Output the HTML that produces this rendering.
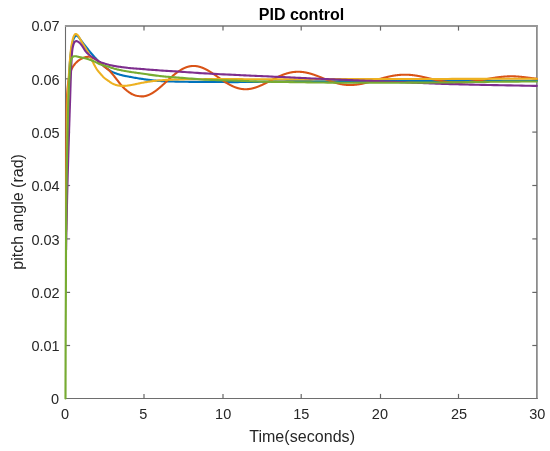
<!DOCTYPE html>
<html><head><meta charset="utf-8"><style>
html,body{margin:0;padding:0;background:#fff;width:550px;height:451px;overflow:hidden}
svg{display:block}
text{font-family:"Liberation Sans",Arial,sans-serif;fill:#262626}
</style></head><body>
<svg width="550" height="451" viewBox="0 0 550 451">
<defs><filter id="sb" x="-5%" y="-5%" width="110%" height="110%"><feGaussianBlur stdDeviation="0.3"/></filter></defs>
<rect width="550" height="451" fill="#fff"/>
<g filter="url(#sb)">

<g stroke="#666666" stroke-width="1.2" fill="none">
<line x1="65.5" y1="25.0" x2="65.5" y2="399.05" stroke="#6a6a6a" stroke-width="1.1"/>
<line x1="536.9" y1="25.0" x2="536.9" y2="399.05" stroke="#808080" stroke-width="1.6"/>
<line x1="64.95" y1="26.0" x2="537.6999999999999" y2="26.0" stroke="#989898" stroke-width="2.0"/>
<line x1="64.95" y1="398.5" x2="537.6999999999999" y2="398.5" stroke="#6e6e6e" stroke-width="1.1"/>
<line x1="144.00" y1="398.5" x2="144.00" y2="393.9"/><line x1="144.00" y1="26.0" x2="144.00" y2="30.6"/><line x1="223.00" y1="398.5" x2="223.00" y2="393.9"/><line x1="223.00" y1="26.0" x2="223.00" y2="30.6"/><line x1="301.20" y1="398.5" x2="301.20" y2="393.9"/><line x1="301.20" y1="26.0" x2="301.20" y2="30.6"/><line x1="380.50" y1="398.5" x2="380.50" y2="393.9"/><line x1="380.50" y1="26.0" x2="380.50" y2="30.6"/><line x1="458.50" y1="398.5" x2="458.50" y2="393.9"/><line x1="458.50" y1="26.0" x2="458.50" y2="30.6"/><line x1="65.5" y1="345.50" x2="70.1" y2="345.50"/><line x1="536.9" y1="345.50" x2="532.3" y2="345.50"/><line x1="65.5" y1="292.40" x2="70.1" y2="292.40"/><line x1="536.9" y1="292.40" x2="532.3" y2="292.40"/><line x1="65.5" y1="238.90" x2="70.1" y2="238.90"/><line x1="536.9" y1="238.90" x2="532.3" y2="238.90"/><line x1="65.5" y1="185.50" x2="70.1" y2="185.50"/><line x1="536.9" y1="185.50" x2="532.3" y2="185.50"/><line x1="65.5" y1="132.10" x2="70.1" y2="132.10"/><line x1="536.9" y1="132.10" x2="532.3" y2="132.10"/><line x1="65.5" y1="78.80" x2="70.1" y2="78.80"/><line x1="536.9" y1="78.80" x2="532.3" y2="78.80"/>
</g>
<g fill="none" stroke-width="2.1" stroke-linejoin="round" stroke-linecap="round">
<path d="M66.10 230.00 L66.15 226.02 L66.20 222.07 L66.25 218.14 L66.30 214.21 L66.35 210.28 L66.40 206.32 L66.45 202.33 L66.50 198.29 L66.55 194.18 L66.60 190.00 L66.66 185.20 L66.72 180.27 L66.77 175.23 L66.83 170.13 L66.89 165.00 L66.95 159.87 L67.01 154.77 L67.07 149.73 L67.14 144.80 L67.20 140.00 L67.25 135.77 L67.30 131.52 L67.34 127.30 L67.39 123.11 L67.43 118.98 L67.48 114.93 L67.54 110.99 L67.61 107.17 L67.70 103.50 L67.80 100.00 L67.89 97.52 L67.98 95.13 L68.09 92.81 L68.20 90.56 L68.31 88.37 L68.43 86.23 L68.55 84.14 L68.67 82.07 L68.78 80.03 L68.90 78.00 L69.00 76.29 L69.09 74.60 L69.18 72.94 L69.27 71.30 L69.36 69.70 L69.46 68.11 L69.56 66.55 L69.66 65.01 L69.78 63.49 L69.90 62.00 L70.01 60.72 L70.13 59.44 L70.24 58.18 L70.37 56.94 L70.49 55.71 L70.62 54.51 L70.76 53.33 L70.90 52.19 L71.05 51.08 L71.20 50.00 L71.32 49.17 L71.45 48.36 L71.57 47.57 L71.70 46.79 L71.84 46.04 L71.97 45.30 L72.12 44.57 L72.27 43.87 L72.43 43.18 L72.60 42.50 L72.75 41.94 L72.89 41.38 L73.04 40.83 L73.19 40.29 L73.35 39.76 L73.52 39.25 L73.69 38.76 L73.88 38.31 L74.08 37.88 L74.30 37.50 L74.47 37.24 L74.64 36.98 L74.82 36.73 L75.01 36.49 L75.20 36.26 L75.39 36.06 L75.59 35.89 L75.79 35.75 L76.00 35.65 L76.20 35.60 L76.39 35.59 L76.59 35.63 L76.79 35.70 L76.99 35.79 L77.20 35.91 L77.40 36.05 L77.61 36.21 L77.81 36.37 L78.01 36.54 L78.20 36.70 L78.44 36.92 L78.68 37.17 L78.91 37.44 L79.14 37.73 L79.36 38.03 L79.59 38.34 L79.82 38.66 L80.04 38.98 L80.27 39.29 L80.50 39.60 L80.75 39.93 L80.99 40.26 L81.24 40.60 L81.49 40.94 L81.74 41.28 L81.99 41.63 L82.24 41.97 L82.49 42.32 L82.74 42.66 L83.00 43.00 L83.26 43.34 L83.53 43.69 L83.80 44.03 L84.08 44.38 L84.35 44.72 L84.63 45.06 L84.90 45.40 L85.17 45.74 L85.44 46.07 L85.70 46.40 L85.94 46.70 L86.17 47.00 L86.41 47.29 L86.64 47.58 L86.87 47.87 L87.09 48.15 L87.32 48.44 L87.55 48.73 L87.77 49.01 L88.00 49.30 L88.22 49.58 L88.43 49.85 L88.64 50.12 L88.84 50.39 L89.05 50.66 L89.26 50.93 L89.48 51.21 L89.71 51.49 L89.95 51.79 L90.20 52.10 L90.57 52.54 L90.97 53.01 L91.38 53.49 L91.82 53.99 L92.27 54.50 L92.72 55.02 L93.19 55.54 L93.66 56.06 L94.13 56.58 L94.60 57.10 L95.11 57.66 L95.64 58.24 L96.18 58.83 L96.72 59.43 L97.27 60.02 L97.82 60.61 L98.38 61.18 L98.92 61.75 L99.47 62.29 L100.00 62.80 L100.46 63.22 L100.91 63.63 L101.36 64.03 L101.81 64.41 L102.26 64.79 L102.70 65.16 L103.15 65.52 L103.60 65.88 L104.05 66.24 L104.50 66.60 L104.94 66.95 L105.38 67.30 L105.82 67.64 L106.25 67.99 L106.69 68.33 L107.13 68.66 L107.58 68.98 L108.02 69.30 L108.46 69.61 L108.90 69.90 L109.31 70.16 L109.71 70.41 L110.11 70.66 L110.52 70.90 L110.92 71.13 L111.33 71.35 L111.74 71.57 L112.15 71.79 L112.57 72.00 L113.00 72.20 L113.45 72.41 L113.90 72.60 L114.36 72.79 L114.83 72.98 L115.30 73.16 L115.77 73.33 L116.25 73.50 L116.73 73.67 L117.21 73.84 L117.70 74.00 L118.21 74.17 L118.73 74.33 L119.25 74.49 L119.77 74.65 L120.30 74.80 L120.83 74.94 L121.37 75.09 L121.91 75.23 L122.45 75.37 L123.00 75.50 L123.58 75.64 L124.16 75.76 L124.74 75.88 L125.32 76.00 L125.91 76.11 L126.51 76.23 L127.12 76.34 L127.76 76.45 L128.42 76.57 L129.10 76.70 L130.06 76.88 L131.08 77.07 L132.15 77.26 L133.25 77.46 L134.38 77.66 L135.52 77.86 L136.66 78.05 L137.80 78.24 L138.91 78.43 L140.00 78.60 L141.02 78.76 L142.03 78.91 L143.03 79.06 L144.03 79.21 L145.02 79.35 L146.02 79.49 L147.01 79.62 L148.00 79.75 L149.00 79.88 L150.00 80.00 L150.98 80.12 L151.94 80.23 L152.89 80.34 L153.83 80.45 L154.78 80.55 L155.75 80.65 L156.74 80.74 L157.78 80.83 L158.86 80.92 L160.00 81.00 L161.71 81.11 L163.52 81.20 L165.42 81.29 L167.40 81.36 L169.43 81.43 L171.51 81.50 L173.62 81.55 L175.75 81.60 L177.88 81.65 L180.00 81.70 L182.38 81.74 L184.78 81.78 L187.22 81.81 L189.69 81.83 L192.18 81.84 L194.70 81.85 L197.24 81.86 L199.81 81.87 L202.40 81.88 L205.00 81.90 L207.90 81.92 L210.87 81.95 L213.89 81.98 L216.93 82.01 L220.00 82.04 L223.07 82.06 L226.11 82.08 L229.13 82.10 L232.10 82.10 L235.00 82.10 L237.58 82.09 L240.11 82.07 L242.60 82.05 L245.05 82.03 L247.50 82.00 L249.95 81.97 L252.40 81.93 L254.89 81.89 L257.42 81.85 L260.00 81.80 L262.89 81.74 L265.83 81.67 L268.80 81.59 L271.80 81.51 L274.83 81.42 L277.87 81.34 L280.91 81.26 L283.96 81.20 L286.99 81.14 L290.00 81.10 L292.98 81.08 L295.93 81.07 L298.86 81.08 L301.79 81.09 L304.73 81.11 L307.69 81.13 L310.68 81.16 L313.72 81.18 L316.83 81.19 L320.00 81.20 L323.77 81.20 L327.63 81.19 L331.58 81.19 L335.59 81.18 L339.64 81.16 L343.72 81.15 L347.82 81.14 L351.91 81.12 L355.97 81.11 L360.00 81.10 L364.00 81.09 L368.00 81.08 L372.00 81.07 L376.00 81.06 L380.00 81.05 L384.00 81.04 L388.00 81.03 L392.00 81.02 L396.00 81.01 L400.00 81.00 L404.00 80.99 L408.00 80.98 L412.00 80.97 L416.00 80.96 L420.00 80.95 L424.00 80.94 L428.00 80.93 L432.00 80.92 L436.00 80.91 L440.00 80.90 L443.97 80.89 L447.89 80.88 L451.78 80.87 L455.66 80.86 L459.56 80.85 L463.50 80.84 L467.49 80.83 L471.55 80.82 L475.72 80.81 L480.00 80.80 L485.28 80.79 L490.72 80.78 L496.31 80.77 L502.00 80.76 L507.78 80.75 L513.60 80.74 L519.45 80.73 L525.28 80.72 L531.08 80.71 L536.80 80.70" stroke="#0072BD" />
<path d="M66.05 232.00 L66.06 226.77 L66.08 221.49 L66.09 216.19 L66.11 210.87 L66.12 205.57 L66.13 200.31 L66.15 195.10 L66.16 189.96 L66.18 184.92 L66.20 180.00 L66.22 175.79 L66.23 171.66 L66.25 167.61 L66.26 163.62 L66.28 159.67 L66.30 155.75 L66.32 151.83 L66.34 147.92 L66.37 143.98 L66.40 140.00 L66.43 135.91 L66.46 131.67 L66.49 127.35 L66.52 123.01 L66.55 118.72 L66.59 114.52 L66.65 110.49 L66.71 106.68 L66.80 103.17 L66.90 100.00 L66.97 98.29 L67.04 96.69 L67.11 95.17 L67.18 93.73 L67.26 92.35 L67.35 91.03 L67.45 89.74 L67.55 88.48 L67.67 87.24 L67.80 86.00 L67.91 85.01 L68.03 84.04 L68.16 83.09 L68.29 82.15 L68.42 81.24 L68.57 80.35 L68.71 79.48 L68.87 78.64 L69.03 77.81 L69.20 77.00 L69.34 76.36 L69.49 75.73 L69.64 75.11 L69.79 74.51 L69.95 73.92 L70.11 73.35 L70.28 72.79 L70.45 72.24 L70.62 71.71 L70.80 71.20 L70.95 70.80 L71.09 70.41 L71.24 70.03 L71.39 69.67 L71.55 69.31 L71.71 68.96 L71.87 68.62 L72.04 68.28 L72.22 67.94 L72.40 67.60 L72.59 67.27 L72.78 66.95 L72.98 66.63 L73.18 66.31 L73.39 66.00 L73.61 65.69 L73.83 65.39 L74.05 65.09 L74.27 64.79 L74.50 64.50 L74.73 64.22 L74.96 63.94 L75.19 63.67 L75.43 63.40 L75.68 63.13 L75.92 62.87 L76.17 62.62 L76.41 62.37 L76.66 62.13 L76.90 61.90 L77.11 61.71 L77.32 61.52 L77.52 61.34 L77.73 61.17 L77.94 61.00 L78.15 60.83 L78.35 60.67 L78.57 60.51 L78.78 60.36 L79.00 60.20 L79.22 60.05 L79.45 59.90 L79.67 59.75 L79.90 59.60 L80.14 59.46 L80.37 59.32 L80.60 59.18 L80.84 59.05 L81.07 58.92 L81.30 58.80 L81.52 58.69 L81.74 58.58 L81.96 58.47 L82.18 58.36 L82.40 58.26 L82.62 58.16 L82.84 58.07 L83.06 57.98 L83.28 57.89 L83.50 57.80 L83.72 57.72 L83.93 57.64 L84.15 57.56 L84.36 57.48 L84.58 57.41 L84.80 57.34 L85.02 57.27 L85.24 57.21 L85.47 57.15 L85.70 57.10 L85.96 57.05 L86.22 57.00 L86.49 56.96 L86.76 56.92 L87.03 56.88 L87.31 56.85 L87.58 56.83 L87.86 56.81 L88.13 56.80 L88.40 56.80 L88.66 56.80 L88.92 56.81 L89.17 56.82 L89.42 56.83 L89.68 56.85 L89.93 56.88 L90.19 56.92 L90.46 56.97 L90.72 57.03 L91.00 57.10 L91.37 57.21 L91.75 57.35 L92.14 57.51 L92.54 57.68 L92.95 57.87 L93.35 58.07 L93.75 58.28 L94.15 58.48 L94.53 58.69 L94.90 58.90 L95.23 59.09 L95.56 59.29 L95.87 59.49 L96.19 59.69 L96.49 59.90 L96.80 60.11 L97.10 60.33 L97.40 60.55 L97.70 60.77 L98.00 61.00 L98.31 61.24 L98.61 61.49 L98.91 61.74 L99.21 62.00 L99.50 62.26 L99.80 62.52 L100.09 62.79 L100.39 63.06 L100.69 63.33 L101.00 63.60 L101.33 63.90 L101.66 64.20 L101.99 64.51 L102.32 64.82 L102.65 65.13 L102.99 65.44 L103.33 65.76 L103.68 66.07 L104.03 66.39 L104.40 66.70 L104.82 67.04 L105.26 67.38 L105.71 67.71 L106.16 68.05 L106.63 68.38 L107.09 68.72 L107.56 69.07 L108.01 69.43 L108.46 69.81 L108.90 70.20 L109.36 70.64 L109.81 71.10 L110.26 71.57 L110.70 72.05 L111.14 72.55 L111.57 73.05 L112.01 73.56 L112.44 74.07 L112.87 74.59 L113.30 75.10 L113.75 75.64 L114.19 76.19 L114.63 76.74 L115.07 77.30 L115.51 77.87 L115.94 78.44 L116.38 79.01 L116.82 79.57 L117.26 80.14 L117.70 80.70 L118.15 81.27 L118.59 81.84 L119.03 82.42 L119.48 83.00 L119.92 83.57 L120.37 84.15 L120.82 84.71 L121.28 85.26 L121.74 85.79 L122.20 86.30 L122.63 86.75 L123.06 87.20 L123.49 87.63 L123.93 88.05 L124.37 88.46 L124.81 88.87 L125.25 89.26 L125.70 89.65 L126.15 90.03 L126.60 90.40 L127.03 90.75 L127.46 91.08 L127.89 91.42 L128.33 91.74 L128.77 92.06 L129.21 92.37 L129.65 92.67 L130.10 92.96 L130.55 93.24 L131.00 93.50 L131.43 93.74 L131.86 93.98 L132.29 94.21 L132.71 94.42 L133.15 94.63 L133.59 94.83 L134.04 95.01 L134.51 95.19 L134.99 95.35 L135.50 95.50 L136.19 95.67 L136.94 95.82 L137.74 95.96 L138.58 96.08 L139.42 96.18 L140.24 96.26 L141.03 96.33 L141.77 96.37 L142.43 96.40 L143.00 96.40 L143.25 96.39 L143.48 96.38 L143.69 96.36 L143.89 96.33 L144.08 96.30 L144.26 96.26 L144.44 96.22 L144.62 96.18 L144.81 96.14 L145.00 96.10 L145.20 96.06 L145.40 96.01 L145.60 95.96 L145.80 95.91 L146.00 95.86 L146.20 95.81 L146.40 95.75 L146.60 95.69 L146.80 95.63 L147.00 95.56 L147.20 95.50 L147.40 95.43 L147.60 95.36 L147.80 95.28 L148.00 95.21 L148.20 95.13 L148.40 95.05 L148.60 94.97 L148.80 94.88 L149.00 94.80 L149.20 94.71 L149.40 94.62 L149.60 94.53 L149.80 94.43 L150.00 94.33 L150.20 94.23 L150.40 94.13 L150.60 94.03 L150.80 93.93 L151.00 93.82 L151.20 93.71 L151.40 93.60 L151.60 93.49 L151.80 93.37 L152.00 93.26 L152.20 93.14 L152.40 93.02 L152.60 92.90 L152.80 92.78 L153.00 92.65 L153.20 92.53 L153.40 92.40 L153.60 92.27 L153.80 92.13 L154.00 92.00 L154.20 91.86 L154.40 91.73 L154.60 91.59 L154.80 91.45 L155.00 91.31 L155.20 91.17 L155.40 91.02 L155.60 90.88 L155.80 90.73 L156.00 90.58 L156.20 90.43 L156.40 90.28 L156.60 90.13 L156.80 89.97 L157.00 89.82 L157.20 89.66 L157.40 89.51 L157.60 89.35 L157.80 89.19 L158.00 89.03 L158.20 88.86 L158.40 88.70 L158.60 88.54 L158.80 88.37 L159.00 88.21 L159.20 88.04 L159.40 87.87 L159.60 87.70 L159.80 87.53 L160.00 87.36 L160.20 87.19 L160.40 87.01 L160.60 86.84 L160.80 86.67 L161.00 86.49 L161.20 86.32 L161.40 86.14 L161.60 85.96 L161.80 85.79 L162.00 85.61 L162.20 85.43 L162.40 85.25 L162.60 85.07 L162.80 84.89 L163.00 84.71 L163.20 84.53 L163.40 84.35 L163.60 84.16 L163.80 83.98 L164.00 83.80 L164.20 83.61 L164.40 83.43 L164.60 83.25 L164.80 83.06 L165.00 82.88 L165.20 82.70 L165.40 82.51 L165.60 82.33 L165.80 82.14 L166.00 81.96 L166.20 81.77 L166.40 81.59 L166.60 81.40 L166.80 81.22 L167.00 81.03 L167.20 80.85 L167.40 80.67 L167.60 80.48 L167.80 80.30 L168.00 80.12 L168.20 79.93 L168.40 79.75 L168.60 79.56 L168.80 79.38 L169.00 79.20 L169.20 79.02 L169.40 78.84 L169.60 78.66 L169.80 78.48 L170.00 78.30 L170.20 78.12 L170.40 77.94 L170.60 77.76 L170.80 77.58 L171.00 77.40 L171.20 77.23 L171.40 77.05 L171.60 76.88 L171.80 76.70 L172.00 76.53 L172.20 76.35 L172.40 76.18 L172.60 76.01 L172.80 75.84 L173.00 75.67 L173.20 75.50 L173.40 75.33 L173.60 75.16 L173.80 75.00 L174.00 74.83 L174.20 74.67 L174.40 74.50 L174.60 74.34 L174.80 74.18 L175.00 74.02 L175.20 73.86 L175.40 73.70 L175.60 73.55 L175.80 73.39 L176.00 73.24 L176.20 73.08 L176.40 72.93 L176.60 72.78 L176.80 72.63 L177.00 72.48 L177.20 72.33 L177.40 72.19 L177.60 72.04 L177.80 71.90 L178.00 71.76 L178.20 71.62 L178.40 71.48 L178.60 71.34 L178.80 71.20 L179.00 71.07 L179.20 70.93 L179.40 70.80 L179.60 70.67 L179.80 70.54 L180.00 70.42 L180.20 70.29 L180.40 70.17 L180.60 70.04 L180.80 69.92 L181.00 69.80 L181.20 69.68 L181.40 69.57 L181.60 69.45 L181.80 69.34 L182.00 69.23 L182.20 69.12 L182.40 69.01 L182.60 68.91 L182.80 68.80 L183.00 68.70 L183.20 68.60 L183.40 68.50 L183.60 68.40 L183.80 68.31 L184.00 68.21 L184.20 68.12 L184.40 68.03 L184.60 67.94 L184.80 67.85 L185.00 67.77 L185.20 67.69 L185.40 67.61 L185.60 67.53 L185.80 67.45 L186.00 67.38 L186.20 67.30 L186.40 67.23 L186.60 67.16 L186.80 67.09 L187.00 67.03 L187.20 66.96 L187.40 66.90 L187.60 66.84 L187.80 66.78 L188.00 66.73 L188.20 66.67 L188.40 66.62 L188.60 66.57 L188.80 66.52 L189.00 66.48 L189.20 66.43 L189.40 66.39 L189.60 66.35 L189.80 66.31 L190.00 66.27 L190.20 66.24 L190.40 66.21 L190.60 66.18 L190.80 66.15 L191.00 66.12 L191.20 66.10 L191.40 66.07 L191.60 66.05 L191.80 66.03 L192.00 66.02 L192.20 66.00 L192.40 65.99 L192.60 65.98 L192.80 65.97 L193.00 65.96 L193.20 65.96 L193.40 65.95 L193.60 65.95 L193.80 65.95 L194.00 65.96 L194.20 65.96 L194.40 65.97 L194.60 65.98 L194.80 65.99 L195.00 66.00 L195.20 66.01 L195.40 66.03 L195.60 66.05 L195.80 66.07 L196.00 66.09 L196.20 66.12 L196.40 66.15 L196.60 66.17 L196.80 66.20 L197.00 66.24 L197.20 66.27 L197.40 66.30 L197.60 66.34 L197.80 66.38 L198.00 66.42 L198.20 66.47 L198.40 66.51 L198.60 66.56 L198.80 66.60 L199.00 66.65 L199.20 66.71 L199.40 66.76 L199.60 66.81 L199.80 66.87 L200.00 66.93 L200.20 66.99 L200.40 67.05 L200.60 67.12 L200.80 67.18 L201.00 67.25 L201.20 67.32 L201.40 67.39 L201.60 67.46 L201.80 67.53 L202.00 67.61 L202.20 67.68 L202.40 67.76 L202.60 67.84 L202.80 67.92 L203.00 68.00 L203.20 68.08 L203.40 68.17 L203.60 68.26 L203.80 68.35 L204.00 68.44 L204.20 68.53 L204.40 68.62 L204.60 68.71 L204.80 68.81 L205.00 68.90 L205.20 69.00 L205.40 69.10 L205.60 69.20 L205.80 69.30 L206.00 69.40 L206.20 69.51 L206.40 69.61 L206.60 69.72 L206.80 69.83 L207.00 69.93 L207.20 70.04 L207.40 70.15 L207.60 70.27 L207.80 70.38 L208.00 70.49 L208.20 70.61 L208.40 70.72 L208.60 70.84 L208.80 70.96 L209.00 71.08 L209.20 71.20 L209.40 71.32 L209.60 71.44 L209.80 71.56 L210.00 71.69 L210.20 71.81 L210.40 71.94 L210.60 72.06 L210.80 72.19 L211.00 72.32 L211.20 72.44 L211.40 72.57 L211.60 72.70 L211.80 72.83 L212.00 72.96 L212.20 73.10 L212.40 73.23 L212.60 73.36 L212.80 73.49 L213.00 73.63 L213.20 73.76 L213.40 73.90 L213.60 74.03 L213.80 74.17 L214.00 74.31 L214.20 74.44 L214.40 74.58 L214.60 74.72 L214.80 74.86 L215.00 74.99 L215.20 75.13 L215.40 75.27 L215.60 75.41 L215.80 75.55 L216.00 75.69 L216.20 75.83 L216.40 75.97 L216.60 76.11 L216.80 76.25 L217.00 76.39 L217.20 76.53 L217.40 76.67 L217.60 76.81 L217.80 76.95 L218.00 77.10 L218.20 77.24 L218.40 77.38 L218.60 77.52 L218.80 77.66 L219.00 77.80 L219.20 77.94 L219.40 78.08 L219.60 78.22 L219.80 78.36 L220.00 78.50 L220.20 78.64 L220.40 78.78 L220.60 78.92 L220.80 79.06 L221.00 79.20 L221.20 79.34 L221.40 79.48 L221.60 79.61 L221.80 79.75 L222.00 79.89 L222.20 80.03 L222.40 80.16 L222.60 80.30 L222.80 80.43 L223.00 80.57 L223.20 80.70 L223.40 80.84 L223.60 80.97 L223.80 81.10 L224.00 81.24 L224.20 81.37 L224.40 81.50 L224.60 81.63 L224.80 81.76 L225.00 81.89 L225.20 82.02 L225.40 82.15 L225.60 82.27 L225.80 82.40 L226.00 82.53 L226.20 82.65 L226.40 82.78 L226.60 82.90 L226.80 83.02 L227.00 83.15 L227.20 83.27 L227.40 83.39 L227.60 83.50 L227.80 83.62 L228.00 83.74 L228.20 83.86 L228.40 83.97 L228.60 84.09 L228.80 84.20 L229.00 84.32 L229.20 84.43 L229.40 84.54 L229.60 84.65 L229.80 84.76 L230.00 84.86 L230.20 84.97 L230.40 85.08 L230.60 85.18 L230.80 85.28 L231.00 85.39 L231.20 85.49 L231.40 85.59 L231.60 85.69 L231.80 85.78 L232.00 85.88 L232.20 85.98 L232.40 86.07 L232.60 86.16 L232.80 86.26 L233.00 86.35 L233.20 86.43 L233.40 86.52 L233.60 86.61 L233.80 86.69 L234.00 86.78 L234.20 86.86 L234.40 86.94 L234.60 87.02 L234.80 87.10 L235.00 87.18 L235.20 87.26 L235.40 87.33 L235.60 87.40 L235.80 87.48 L236.00 87.55 L236.20 87.62 L236.40 87.68 L236.60 87.75 L236.80 87.82 L237.00 87.88 L237.20 87.94 L237.40 88.00 L237.60 88.06 L237.80 88.12 L238.00 88.18 L238.20 88.23 L238.40 88.29 L238.60 88.34 L238.80 88.39 L239.00 88.44 L239.20 88.49 L239.40 88.54 L239.60 88.58 L239.80 88.62 L240.00 88.67 L240.20 88.71 L240.40 88.75 L240.60 88.78 L240.80 88.82 L241.00 88.85 L241.20 88.89 L241.40 88.92 L241.60 88.95 L241.80 88.98 L242.00 89.01 L242.20 89.03 L242.40 89.06 L242.60 89.08 L242.80 89.10 L243.00 89.12 L243.20 89.14 L243.40 89.15 L243.60 89.17 L243.80 89.18 L244.00 89.19 L244.20 89.21 L244.40 89.21 L244.60 89.22 L244.80 89.23 L245.00 89.23 L245.20 89.24 L245.40 89.24 L245.60 89.24 L245.80 89.24 L246.00 89.24 L246.20 89.23 L246.40 89.23 L246.60 89.22 L246.80 89.21 L247.00 89.20 L247.20 89.19 L247.40 89.17 L247.60 89.16 L247.80 89.14 L248.00 89.13 L248.20 89.11 L248.40 89.09 L248.60 89.06 L248.80 89.04 L249.00 89.02 L249.20 88.99 L249.40 88.96 L249.60 88.93 L249.80 88.90 L250.00 88.87 L250.20 88.84 L250.40 88.81 L250.60 88.77 L250.80 88.73 L251.00 88.70 L251.20 88.66 L251.40 88.62 L251.60 88.57 L251.80 88.53 L252.00 88.49 L252.20 88.44 L252.40 88.40 L252.60 88.35 L252.80 88.30 L253.00 88.25 L253.20 88.20 L253.40 88.14 L253.60 88.09 L253.80 88.04 L254.00 87.98 L254.20 87.92 L254.40 87.86 L254.60 87.80 L254.80 87.74 L255.00 87.68 L255.20 87.62 L255.40 87.56 L255.60 87.49 L255.80 87.42 L256.00 87.36 L256.20 87.29 L256.40 87.22 L256.60 87.15 L256.80 87.08 L257.00 87.01 L257.20 86.94 L257.40 86.86 L257.60 86.79 L257.80 86.71 L258.00 86.63 L258.20 86.56 L258.40 86.48 L258.60 86.40 L258.80 86.32 L259.00 86.24 L259.20 86.16 L259.40 86.07 L259.60 85.99 L259.80 85.91 L260.00 85.82 L260.20 85.74 L260.40 85.65 L260.60 85.56 L260.80 85.48 L261.00 85.39 L261.20 85.30 L261.40 85.21 L261.60 85.12 L261.80 85.03 L262.00 84.93 L262.20 84.84 L262.40 84.75 L262.60 84.65 L262.80 84.56 L263.00 84.47 L263.20 84.37 L263.40 84.27 L263.60 84.18 L263.80 84.08 L264.00 83.98 L264.20 83.89 L264.40 83.79 L264.60 83.69 L264.80 83.59 L265.00 83.49 L265.20 83.39 L265.40 83.29 L265.60 83.19 L265.80 83.09 L266.00 82.99 L266.20 82.89 L266.40 82.78 L266.60 82.68 L266.80 82.58 L267.00 82.48 L267.20 82.37 L267.40 82.27 L267.60 82.17 L267.80 82.06 L268.00 81.96 L268.20 81.86 L268.40 81.75 L268.60 81.65 L268.80 81.54 L269.00 81.44 L269.20 81.34 L269.40 81.23 L269.60 81.13 L269.80 81.02 L270.00 80.92 L270.20 80.81 L270.40 80.71 L270.60 80.60 L270.80 80.50 L271.00 80.39 L271.20 80.29 L271.40 80.19 L271.60 80.08 L271.80 79.98 L272.00 79.87 L272.20 79.77 L272.40 79.66 L272.60 79.56 L272.80 79.46 L273.00 79.35 L273.20 79.25 L273.40 79.15 L273.60 79.05 L273.80 78.94 L274.00 78.84 L274.20 78.74 L274.40 78.64 L274.60 78.54 L274.80 78.44 L275.00 78.34 L275.20 78.24 L275.40 78.14 L275.60 78.04 L275.80 77.94 L276.00 77.84 L276.20 77.74 L276.40 77.64 L276.60 77.55 L276.80 77.45 L277.00 77.35 L277.20 77.26 L277.40 77.16 L277.60 77.07 L277.80 76.97 L278.00 76.88 L278.20 76.79 L278.40 76.69 L278.60 76.60 L278.80 76.51 L279.00 76.42 L279.20 76.33 L279.40 76.24 L279.60 76.15 L279.80 76.06 L280.00 75.98 L280.20 75.89 L280.40 75.80 L280.60 75.72 L280.80 75.63 L281.00 75.55 L281.20 75.46 L281.40 75.38 L281.60 75.30 L281.80 75.22 L282.00 75.14 L282.20 75.06 L282.40 74.98 L282.60 74.90 L282.80 74.82 L283.00 74.74 L283.20 74.67 L283.40 74.59 L283.60 74.52 L283.80 74.45 L284.00 74.37 L284.20 74.30 L284.40 74.23 L284.60 74.16 L284.80 74.09 L285.00 74.02 L285.20 73.96 L285.40 73.89 L285.60 73.83 L285.80 73.76 L286.00 73.70 L286.20 73.64 L286.40 73.57 L286.60 73.51 L286.80 73.45 L287.00 73.39 L287.20 73.34 L287.40 73.28 L287.60 73.22 L287.80 73.17 L288.00 73.12 L288.20 73.06 L288.40 73.01 L288.60 72.96 L288.80 72.91 L289.00 72.86 L289.20 72.81 L289.40 72.77 L289.60 72.72 L289.80 72.68 L290.00 72.63 L290.20 72.59 L290.40 72.55 L290.60 72.51 L290.80 72.47 L291.00 72.43 L291.20 72.39 L291.40 72.36 L291.60 72.32 L291.80 72.29 L292.00 72.25 L292.20 72.22 L292.40 72.19 L292.60 72.16 L292.80 72.13 L293.00 72.10 L293.20 72.08 L293.40 72.05 L293.60 72.03 L293.80 72.00 L294.00 71.98 L294.20 71.96 L294.40 71.94 L294.60 71.92 L294.80 71.90 L295.00 71.89 L295.20 71.87 L295.40 71.86 L295.60 71.84 L295.80 71.83 L296.00 71.82 L296.20 71.81 L296.40 71.80 L296.60 71.79 L296.80 71.79 L297.00 71.78 L297.20 71.77 L297.40 71.77 L297.60 71.77 L297.80 71.77 L298.00 71.77 L298.20 71.77 L298.40 71.77 L298.60 71.77 L298.80 71.77 L299.00 71.78 L299.20 71.78 L299.40 71.79 L299.60 71.80 L299.80 71.81 L300.00 71.81 L300.20 71.82 L300.40 71.84 L300.60 71.85 L300.80 71.86 L301.00 71.88 L301.20 71.89 L301.40 71.91 L301.60 71.92 L301.80 71.94 L302.00 71.96 L302.20 71.98 L302.40 72.00 L302.60 72.03 L302.80 72.05 L303.00 72.07 L303.20 72.10 L303.40 72.12 L303.60 72.15 L303.80 72.18 L304.00 72.21 L304.20 72.24 L304.40 72.27 L304.60 72.30 L304.80 72.34 L305.00 72.37 L305.20 72.41 L305.40 72.44 L305.60 72.48 L305.80 72.52 L306.00 72.56 L306.20 72.60 L306.40 72.64 L306.60 72.68 L306.80 72.72 L307.00 72.76 L307.20 72.81 L307.40 72.85 L307.60 72.90 L307.80 72.95 L308.00 72.99 L308.20 73.04 L308.40 73.09 L308.60 73.14 L308.80 73.19 L309.00 73.24 L309.20 73.30 L309.40 73.35 L309.60 73.40 L309.80 73.46 L310.00 73.52 L310.20 73.57 L310.40 73.63 L310.60 73.69 L310.80 73.74 L311.00 73.80 L311.20 73.86 L311.40 73.92 L311.60 73.99 L311.80 74.05 L312.00 74.11 L312.20 74.17 L312.40 74.24 L312.60 74.30 L312.80 74.37 L313.00 74.43 L313.20 74.50 L313.40 74.56 L313.60 74.63 L313.80 74.70 L314.00 74.77 L314.20 74.84 L314.40 74.91 L314.60 74.98 L314.80 75.05 L315.00 75.12 L315.20 75.19 L315.40 75.26 L315.60 75.33 L315.80 75.41 L316.00 75.48 L316.20 75.55 L316.40 75.63 L316.60 75.70 L316.80 75.78 L317.00 75.85 L317.20 75.93 L317.40 76.00 L317.60 76.08 L317.80 76.16 L318.00 76.23 L318.20 76.31 L318.40 76.39 L318.60 76.46 L318.80 76.54 L319.00 76.62 L319.20 76.70 L319.40 76.78 L319.60 76.86 L319.80 76.94 L320.00 77.01 L320.20 77.09 L320.40 77.17 L320.60 77.25 L320.80 77.33 L321.00 77.41 L321.20 77.49 L321.40 77.57 L321.60 77.65 L321.80 77.73 L322.00 77.81 L322.20 77.89 L322.40 77.98 L322.60 78.06 L322.80 78.14 L323.00 78.22 L323.20 78.30 L323.40 78.38 L323.60 78.46 L323.80 78.54 L324.00 78.62 L324.20 78.70 L324.40 78.78 L324.60 78.86 L324.80 78.94 L325.00 79.02 L325.20 79.10 L325.40 79.18 L325.60 79.26 L325.80 79.34 L326.00 79.42 L326.20 79.50 L326.40 79.58 L326.60 79.66 L326.80 79.73 L327.00 79.81 L327.20 79.89 L327.40 79.97 L327.60 80.04 L327.80 80.12 L328.00 80.20 L328.20 80.28 L328.40 80.35 L328.60 80.43 L328.80 80.50 L329.00 80.58 L329.20 80.65 L329.40 80.73 L329.60 80.80 L329.80 80.88 L330.00 80.95 L330.20 81.02 L330.40 81.10 L330.60 81.17 L330.80 81.24 L331.00 81.31 L331.20 81.38 L331.40 81.45 L331.60 81.52 L331.80 81.59 L332.00 81.66 L332.20 81.73 L332.40 81.80 L332.60 81.87 L332.80 81.93 L333.00 82.00 L333.20 82.07 L333.40 82.13 L333.60 82.20 L333.80 82.26 L334.00 82.32 L334.20 82.39 L334.40 82.45 L334.60 82.51 L334.80 82.57 L335.00 82.63 L335.20 82.69 L335.40 82.75 L335.60 82.81 L335.80 82.87 L336.00 82.93 L336.20 82.98 L336.40 83.04 L336.60 83.10 L336.80 83.15 L337.00 83.21 L337.20 83.26 L337.40 83.31 L337.60 83.36 L337.80 83.41 L338.00 83.47 L338.20 83.52 L338.40 83.56 L338.60 83.61 L338.80 83.66 L339.00 83.71 L339.20 83.75 L339.40 83.80 L339.60 83.84 L339.80 83.89 L340.00 83.93 L340.20 83.97 L340.40 84.01 L340.60 84.06 L340.80 84.10 L341.00 84.13 L341.20 84.17 L341.40 84.21 L341.60 84.25 L341.80 84.28 L342.00 84.32 L342.20 84.35 L342.40 84.39 L342.60 84.42 L342.80 84.45 L343.00 84.48 L343.20 84.51 L343.40 84.54 L343.60 84.57 L343.80 84.60 L344.00 84.62 L344.20 84.65 L344.40 84.67 L344.60 84.70 L344.80 84.72 L345.00 84.74 L345.20 84.76 L345.40 84.78 L345.60 84.80 L345.80 84.82 L346.00 84.84 L346.20 84.86 L346.40 84.87 L346.60 84.89 L346.80 84.90 L347.00 84.92 L347.20 84.93 L347.40 84.94 L347.60 84.95 L347.80 84.96 L348.00 84.97 L348.20 84.98 L348.40 84.99 L348.60 85.00 L348.80 85.00 L349.00 85.01 L349.20 85.01 L349.40 85.01 L349.60 85.02 L349.80 85.02 L350.00 85.02 L350.20 85.02 L350.40 85.02 L350.60 85.01 L350.80 85.01 L351.00 85.01 L351.20 85.00 L351.40 85.00 L351.60 84.99 L351.80 84.98 L352.00 84.98 L352.20 84.97 L352.40 84.96 L352.60 84.95 L352.80 84.94 L353.00 84.93 L353.20 84.92 L353.40 84.90 L353.60 84.89 L353.80 84.88 L354.00 84.86 L354.20 84.85 L354.40 84.83 L354.60 84.81 L354.80 84.79 L355.00 84.78 L355.20 84.76 L355.40 84.74 L355.60 84.72 L355.80 84.70 L356.00 84.67 L356.20 84.65 L356.40 84.63 L356.60 84.60 L356.80 84.58 L357.00 84.56 L357.20 84.53 L357.40 84.50 L357.60 84.48 L357.80 84.45 L358.00 84.42 L358.20 84.39 L358.40 84.36 L358.60 84.33 L358.80 84.30 L359.00 84.27 L359.20 84.24 L359.40 84.20 L359.60 84.17 L359.80 84.14 L360.00 84.10 L360.20 84.07 L360.40 84.03 L360.60 84.00 L360.80 83.96 L361.00 83.92 L361.20 83.89 L361.40 83.85 L361.60 83.81 L361.80 83.77 L362.00 83.73 L362.20 83.69 L362.40 83.65 L362.60 83.61 L362.80 83.56 L363.00 83.52 L363.20 83.48 L363.40 83.44 L363.60 83.39 L363.80 83.35 L364.00 83.30 L364.20 83.26 L364.40 83.21 L364.60 83.17 L364.80 83.12 L365.00 83.07 L365.20 83.03 L365.40 82.98 L365.60 82.93 L365.80 82.88 L366.00 82.83 L366.20 82.78 L366.40 82.73 L366.60 82.68 L366.80 82.63 L367.00 82.58 L367.20 82.53 L367.40 82.48 L367.60 82.43 L367.80 82.37 L368.00 82.32 L368.20 82.27 L368.40 82.22 L368.60 82.16 L368.80 82.11 L369.00 82.06 L369.20 82.00 L369.40 81.95 L369.60 81.89 L369.80 81.84 L370.00 81.78 L370.20 81.73 L370.40 81.67 L370.60 81.61 L370.80 81.56 L371.00 81.50 L371.20 81.45 L371.40 81.39 L371.60 81.33 L371.80 81.28 L372.00 81.22 L372.20 81.16 L372.40 81.10 L372.60 81.05 L372.80 80.99 L373.00 80.93 L373.20 80.87 L373.40 80.81 L373.60 80.76 L373.80 80.70 L374.00 80.64 L374.20 80.58 L374.40 80.52 L374.60 80.46 L374.80 80.40 L375.00 80.35 L375.20 80.29 L375.40 80.23 L375.60 80.17 L375.80 80.11 L376.00 80.05 L376.20 79.99 L376.40 79.93 L376.60 79.87 L376.80 79.81 L377.00 79.76 L377.20 79.70 L377.40 79.64 L377.60 79.58 L377.80 79.52 L378.00 79.46 L378.20 79.40 L378.40 79.35 L378.60 79.29 L378.80 79.23 L379.00 79.17 L379.20 79.11 L379.40 79.06 L379.60 79.00 L379.80 78.94 L380.00 78.88 L380.20 78.82 L380.40 78.77 L380.60 78.71 L380.80 78.65 L381.00 78.60 L381.20 78.54 L381.40 78.48 L381.60 78.43 L381.80 78.37 L382.00 78.32 L382.20 78.26 L382.40 78.21 L382.60 78.15 L382.80 78.10 L383.00 78.04 L383.20 77.99 L383.40 77.93 L383.60 77.88 L383.80 77.83 L384.00 77.77 L384.20 77.72 L384.40 77.67 L384.60 77.61 L384.80 77.56 L385.00 77.51 L385.20 77.46 L385.40 77.41 L385.60 77.36 L385.80 77.31 L386.00 77.26 L386.20 77.21 L386.40 77.16 L386.60 77.11 L386.80 77.06 L387.00 77.01 L387.20 76.96 L387.40 76.92 L387.60 76.87 L387.80 76.82 L388.00 76.77 L388.20 76.73 L388.40 76.68 L388.60 76.64 L388.80 76.59 L389.00 76.55 L389.20 76.50 L389.40 76.46 L389.60 76.42 L389.80 76.38 L390.00 76.33 L390.20 76.29 L390.40 76.25 L390.60 76.21 L390.80 76.17 L391.00 76.13 L391.20 76.09 L391.40 76.05 L391.60 76.01 L391.80 75.97 L392.00 75.94 L392.20 75.90 L392.40 75.86 L392.60 75.83 L392.80 75.79 L393.00 75.76 L393.20 75.72 L393.40 75.69 L393.60 75.66 L393.80 75.62 L394.00 75.59 L394.20 75.56 L394.40 75.53 L394.60 75.50 L394.80 75.47 L395.00 75.44 L395.20 75.41 L395.40 75.38 L395.60 75.35 L395.80 75.32 L396.00 75.30 L396.20 75.27 L396.40 75.24 L396.60 75.22 L396.80 75.19 L397.00 75.17 L397.20 75.15 L397.40 75.12 L397.60 75.10 L397.80 75.08 L398.00 75.06 L398.20 75.04 L398.40 75.02 L398.60 75.00 L398.80 74.98 L399.00 74.96 L399.20 74.94 L399.40 74.93 L399.60 74.91 L399.80 74.89 L400.00 74.88 L400.20 74.86 L400.40 74.85 L400.60 74.83 L400.80 74.82 L401.00 74.81 L401.20 74.80 L401.40 74.79 L401.60 74.78 L401.80 74.77 L402.00 74.76 L402.20 74.75 L402.40 74.74 L402.60 74.73 L402.80 74.72 L403.00 74.72 L403.20 74.71 L403.40 74.71 L403.60 74.70 L403.80 74.70 L404.00 74.69 L404.20 74.69 L404.40 74.69 L404.60 74.69 L404.80 74.69 L405.00 74.69 L405.20 74.69 L405.40 74.69 L405.60 74.69 L405.80 74.69 L406.00 74.69 L406.20 74.69 L406.40 74.70 L406.60 74.70 L406.80 74.71 L407.00 74.71 L407.20 74.72 L407.40 74.73 L407.60 74.74 L407.80 74.74 L408.00 74.75 L408.20 74.76 L408.40 74.77 L408.60 74.79 L408.80 74.80 L409.00 74.81 L409.20 74.82 L409.40 74.84 L409.60 74.85 L409.80 74.86 L410.00 74.88 L410.20 74.90 L410.40 74.91 L410.60 74.93 L410.80 74.95 L411.00 74.97 L411.20 74.98 L411.40 75.00 L411.60 75.02 L411.80 75.04 L412.00 75.06 L412.20 75.09 L412.40 75.11 L412.60 75.13 L412.80 75.15 L413.00 75.18 L413.20 75.20 L413.40 75.23 L413.60 75.25 L413.80 75.28 L414.00 75.30 L414.20 75.33 L414.40 75.36 L414.60 75.39 L414.80 75.42 L415.00 75.44 L415.20 75.47 L415.40 75.50 L415.60 75.53 L415.80 75.56 L416.00 75.60 L416.20 75.63 L416.40 75.66 L416.60 75.69 L416.80 75.72 L417.00 75.76 L417.20 75.79 L417.40 75.83 L417.60 75.86 L417.80 75.90 L418.00 75.93 L418.20 75.97 L418.40 76.00 L418.60 76.04 L418.80 76.08 L419.00 76.11 L419.20 76.15 L419.40 76.19 L419.60 76.23 L419.80 76.27 L420.00 76.31 L420.20 76.35 L420.40 76.39 L420.60 76.43 L420.80 76.47 L421.00 76.51 L421.20 76.55 L421.40 76.59 L421.60 76.63 L421.80 76.67 L422.00 76.72 L422.20 76.76 L422.40 76.80 L422.60 76.84 L422.80 76.89 L423.00 76.93 L423.20 76.97 L423.40 77.02 L423.60 77.06 L423.80 77.11 L424.00 77.15 L424.20 77.20 L424.40 77.24 L424.60 77.29 L424.80 77.33 L425.00 77.38 L425.20 77.42 L425.40 77.47 L425.60 77.51 L425.80 77.56 L426.00 77.61 L426.20 77.65 L426.40 77.70 L426.60 77.75 L426.80 77.79 L427.00 77.84 L427.20 77.89 L427.40 77.93 L427.60 77.98 L427.80 78.03 L428.00 78.07 L428.20 78.12 L428.40 78.17 L428.60 78.22 L428.80 78.26 L429.00 78.31 L429.20 78.36 L429.40 78.41 L429.60 78.45 L429.80 78.50 L430.00 78.55 L430.20 78.60 L430.40 78.64 L430.60 78.69 L430.80 78.74 L431.00 78.79 L431.20 78.83 L431.40 78.88 L431.60 78.93 L431.80 78.98 L432.00 79.02 L432.20 79.07 L432.40 79.12 L432.60 79.16 L432.80 79.21 L433.00 79.26 L433.20 79.30 L433.40 79.35 L433.60 79.40 L433.80 79.44 L434.00 79.49 L434.20 79.54 L434.40 79.58 L434.60 79.63 L434.80 79.67 L435.00 79.72 L435.20 79.76 L435.40 79.81 L435.60 79.85 L435.80 79.90 L436.00 79.94 L436.20 79.99 L436.40 80.03 L436.60 80.08 L436.80 80.12 L437.00 80.16 L437.20 80.21 L437.40 80.25 L437.60 80.29 L437.80 80.33 L438.00 80.38 L438.20 80.42 L438.40 80.46 L438.60 80.50 L438.80 80.54 L439.00 80.58 L439.20 80.62 L439.40 80.66 L439.60 80.70 L439.80 80.74 L440.00 80.78 L440.20 80.82 L440.40 80.86 L440.60 80.90 L440.80 80.94 L441.00 80.97 L441.20 81.01 L441.40 81.05 L441.60 81.08 L441.80 81.12 L442.00 81.16 L442.20 81.19 L442.40 81.23 L442.60 81.26 L442.80 81.30 L443.00 81.33 L443.20 81.37 L443.40 81.40 L443.60 81.43 L443.80 81.46 L444.00 81.50 L444.20 81.53 L444.40 81.56 L444.60 81.59 L444.80 81.62 L445.00 81.65 L445.20 81.68 L445.40 81.71 L445.60 81.74 L445.80 81.77 L446.00 81.80 L446.20 81.82 L446.40 81.85 L446.60 81.88 L446.80 81.90 L447.00 81.93 L447.20 81.96 L447.40 81.98 L447.60 82.00 L447.80 82.03 L448.00 82.05 L448.20 82.08 L448.40 82.10 L448.60 82.12 L448.80 82.14 L449.00 82.16 L449.20 82.18 L449.40 82.20 L449.60 82.22 L449.80 82.24 L450.00 82.26 L450.20 82.28 L450.40 82.30 L450.60 82.32 L450.80 82.33 L451.00 82.35 L451.20 82.37 L451.40 82.38 L451.60 82.40 L451.80 82.41 L452.00 82.42 L452.20 82.44 L452.40 82.45 L452.60 82.46 L452.80 82.48 L453.00 82.49 L453.20 82.50 L453.40 82.51 L453.60 82.52 L453.80 82.53 L454.00 82.54 L454.20 82.55 L454.40 82.55 L454.60 82.56 L454.80 82.57 L455.00 82.57 L455.20 82.58 L455.40 82.59 L455.60 82.59 L455.80 82.60 L456.00 82.60 L456.20 82.60 L456.40 82.61 L456.60 82.61 L456.80 82.61 L457.00 82.61 L457.20 82.61 L457.40 82.61 L457.60 82.61 L457.80 82.61 L458.00 82.61 L458.20 82.61 L458.40 82.61 L458.60 82.61 L458.80 82.60 L459.00 82.60 L459.20 82.60 L459.40 82.59 L459.60 82.59 L459.80 82.59 L460.00 82.58 L460.20 82.58 L460.40 82.57 L460.60 82.57 L460.80 82.56 L461.00 82.56 L461.20 82.55 L461.40 82.54 L461.60 82.54 L461.80 82.53 L462.00 82.52 L462.20 82.51 L462.40 82.50 L462.60 82.49 L462.80 82.48 L463.00 82.47 L463.20 82.46 L463.40 82.45 L463.60 82.43 L463.80 82.42 L464.00 82.41 L464.20 82.40 L464.40 82.38 L464.60 82.37 L464.80 82.35 L465.00 82.34 L465.20 82.32 L465.40 82.31 L465.60 82.29 L465.80 82.28 L466.00 82.26 L466.20 82.24 L466.40 82.22 L466.60 82.20 L466.80 82.19 L467.00 82.17 L467.20 82.15 L467.40 82.13 L467.60 82.11 L467.80 82.09 L468.00 82.07 L468.20 82.05 L468.40 82.02 L468.60 82.00 L468.80 81.98 L469.00 81.96 L469.20 81.94 L469.40 81.91 L469.60 81.89 L469.80 81.86 L470.00 81.84 L470.20 81.82 L470.40 81.79 L470.60 81.77 L470.80 81.74 L471.00 81.71 L471.20 81.69 L471.40 81.66 L471.60 81.63 L471.80 81.61 L472.00 81.58 L472.20 81.55 L472.40 81.52 L472.60 81.50 L472.80 81.47 L473.00 81.44 L473.20 81.41 L473.40 81.38 L473.60 81.35 L473.80 81.32 L474.00 81.29 L474.20 81.26 L474.40 81.23 L474.60 81.20 L474.80 81.17 L475.00 81.14 L475.20 81.11 L475.40 81.07 L475.60 81.04 L475.80 81.01 L476.00 80.98 L476.20 80.94 L476.40 80.91 L476.60 80.88 L476.80 80.85 L477.00 80.81 L477.20 80.78 L477.40 80.75 L477.60 80.71 L477.80 80.68 L478.00 80.64 L478.20 80.61 L478.40 80.57 L478.60 80.54 L478.80 80.50 L479.00 80.47 L479.20 80.43 L479.40 80.40 L479.60 80.36 L479.80 80.33 L480.00 80.29 L480.20 80.26 L480.40 80.22 L480.60 80.19 L480.80 80.15 L481.00 80.11 L481.20 80.08 L481.40 80.04 L481.60 80.01 L481.80 79.97 L482.00 79.93 L482.20 79.90 L482.40 79.86 L482.60 79.82 L482.80 79.79 L483.00 79.75 L483.20 79.71 L483.40 79.68 L483.60 79.64 L483.80 79.60 L484.00 79.57 L484.20 79.53 L484.40 79.49 L484.60 79.46 L484.80 79.42 L485.00 79.38 L485.20 79.35 L485.40 79.31 L485.60 79.27 L485.80 79.24 L486.00 79.20 L486.20 79.16 L486.40 79.13 L486.60 79.09 L486.80 79.05 L487.00 79.02 L487.20 78.98 L487.40 78.95 L487.60 78.91 L487.80 78.87 L488.00 78.84 L488.20 78.80 L488.40 78.77 L488.60 78.73 L488.80 78.69 L489.00 78.66 L489.20 78.62 L489.40 78.59 L489.60 78.55 L489.80 78.52 L490.00 78.48 L490.20 78.45 L490.40 78.42 L490.60 78.38 L490.80 78.35 L491.00 78.31 L491.20 78.28 L491.40 78.25 L491.60 78.21 L491.80 78.18 L492.00 78.14 L492.20 78.11 L492.40 78.08 L492.60 78.05 L492.80 78.01 L493.00 77.98 L493.20 77.95 L493.40 77.92 L493.60 77.89 L493.80 77.85 L494.00 77.82 L494.20 77.79 L494.40 77.76 L494.60 77.73 L494.80 77.70 L495.00 77.67 L495.20 77.64 L495.40 77.61 L495.60 77.58 L495.80 77.55 L496.00 77.52 L496.20 77.50 L496.40 77.47 L496.60 77.44 L496.80 77.41 L497.00 77.38 L497.20 77.36 L497.40 77.33 L497.60 77.30 L497.80 77.28 L498.00 77.25 L498.20 77.23 L498.40 77.20 L498.60 77.18 L498.80 77.15 L499.00 77.13 L499.20 77.10 L499.40 77.08 L499.60 77.05 L499.80 77.03 L500.00 77.01 L500.20 76.99 L500.40 76.96 L500.60 76.94 L500.80 76.92 L501.00 76.90 L501.20 76.88 L501.40 76.86 L501.60 76.84 L501.80 76.82 L502.00 76.80 L502.20 76.78 L502.40 76.76 L502.60 76.74 L502.80 76.72 L503.00 76.70 L503.20 76.69 L503.40 76.67 L503.60 76.65 L503.80 76.64 L504.00 76.62 L504.20 76.61 L504.40 76.59 L504.60 76.58 L504.80 76.56 L505.00 76.55 L505.20 76.53 L505.40 76.52 L505.60 76.51 L505.80 76.49 L506.00 76.48 L506.20 76.47 L506.40 76.46 L506.60 76.45 L506.80 76.44 L507.00 76.43 L507.20 76.42 L507.40 76.41 L507.60 76.40 L507.80 76.39 L508.00 76.38 L508.20 76.37 L508.40 76.37 L508.60 76.36 L508.80 76.35 L509.00 76.34 L509.20 76.34 L509.40 76.33 L509.60 76.33 L509.80 76.32 L510.00 76.32 L510.20 76.31 L510.40 76.31 L510.60 76.31 L510.80 76.31 L511.00 76.30 L511.20 76.30 L511.40 76.30 L511.60 76.30 L511.80 76.29 L512.00 76.29 L512.20 76.29 L512.40 76.29 L512.60 76.29 L512.80 76.30 L513.00 76.30 L513.20 76.30 L513.40 76.31 L513.60 76.32 L513.80 76.33 L514.00 76.33 L514.20 76.34 L514.40 76.35 L514.60 76.36 L514.80 76.37 L515.00 76.38 L515.20 76.39 L515.40 76.40 L515.60 76.41 L515.80 76.43 L516.00 76.44 L516.20 76.45 L516.40 76.46 L516.60 76.47 L516.80 76.49 L517.00 76.50 L517.20 76.51 L517.40 76.53 L517.60 76.54 L517.80 76.56 L518.00 76.57 L518.20 76.59 L518.40 76.60 L518.60 76.62 L518.80 76.63 L519.00 76.65 L519.20 76.67 L519.40 76.68 L519.60 76.70 L519.80 76.72 L520.00 76.73 L520.20 76.75 L520.40 76.77 L520.60 76.79 L520.80 76.81 L521.00 76.83 L521.20 76.85 L521.40 76.87 L521.60 76.89 L521.80 76.91 L522.00 76.93 L522.20 76.95 L522.40 76.97 L522.60 76.99 L522.80 77.01 L523.00 77.03 L523.20 77.05 L523.40 77.07 L523.60 77.09 L523.80 77.12 L524.00 77.14 L524.20 77.16 L524.40 77.18 L524.60 77.21 L524.80 77.23 L525.00 77.25 L525.20 77.28 L525.40 77.30 L525.60 77.32 L525.80 77.35 L526.00 77.37 L526.20 77.40 L526.40 77.42 L526.60 77.45 L526.80 77.47 L527.00 77.49 L527.20 77.52 L527.40 77.54 L527.60 77.57 L527.80 77.59 L528.00 77.62 L528.20 77.65 L528.40 77.67 L528.60 77.70 L528.80 77.72 L529.00 77.75 L529.20 77.77 L529.40 77.80 L529.60 77.83 L529.80 77.85 L530.00 77.88 L530.20 77.90 L530.40 77.93 L530.60 77.96 L530.80 77.98 L531.00 78.01 L531.20 78.04 L531.40 78.06 L531.60 78.09 L531.80 78.12 L532.00 78.14 L532.20 78.17 L532.40 78.20 L532.60 78.22 L532.80 78.25 L533.00 78.28 L533.20 78.31 L533.40 78.33 L533.60 78.36 L533.81 78.39 L534.01 78.41 L534.21 78.44 L534.41 78.47 L534.61 78.49 L534.80 78.52 L535.00 78.55 L535.18 78.57 L535.37 78.60 L535.55 78.62 L535.73 78.64 L535.91 78.67 L536.08 78.69 L536.26 78.72 L536.44 78.74 L536.62 78.76 L536.80 78.79" stroke="#D95319" />
<path d="M66.10 230.00 L66.14 226.02 L66.18 222.07 L66.22 218.14 L66.26 214.21 L66.30 210.28 L66.34 206.32 L66.38 202.33 L66.42 198.29 L66.46 194.18 L66.50 190.00 L66.55 185.20 L66.59 180.27 L66.64 175.23 L66.69 170.13 L66.74 165.00 L66.78 159.87 L66.83 154.77 L66.89 149.73 L66.94 144.80 L67.00 140.00 L67.05 135.76 L67.10 131.49 L67.14 127.24 L67.18 123.02 L67.23 118.86 L67.28 114.80 L67.35 110.85 L67.42 107.05 L67.50 103.42 L67.60 100.00 L67.68 97.71 L67.77 95.53 L67.86 93.44 L67.96 91.43 L68.06 89.47 L68.16 87.55 L68.27 85.66 L68.38 83.79 L68.49 81.90 L68.60 80.00 L68.70 78.23 L68.80 76.47 L68.91 74.73 L69.01 72.99 L69.12 71.27 L69.23 69.57 L69.34 67.89 L69.46 66.23 L69.58 64.60 L69.70 63.00 L69.81 61.61 L69.92 60.24 L70.03 58.87 L70.14 57.52 L70.25 56.19 L70.37 54.89 L70.50 53.61 L70.62 52.37 L70.76 51.16 L70.90 50.00 L71.01 49.11 L71.13 48.25 L71.25 47.41 L71.37 46.58 L71.50 45.78 L71.63 44.99 L71.76 44.22 L71.90 43.47 L72.05 42.73 L72.20 42.00 L72.33 41.39 L72.46 40.79 L72.59 40.19 L72.72 39.60 L72.86 39.03 L73.00 38.47 L73.16 37.94 L73.32 37.43 L73.50 36.95 L73.70 36.50 L73.85 36.18 L74.01 35.85 L74.18 35.53 L74.35 35.22 L74.53 34.92 L74.71 34.65 L74.90 34.42 L75.09 34.23 L75.29 34.08 L75.50 34.00 L75.68 33.98 L75.88 34.00 L76.08 34.05 L76.29 34.14 L76.50 34.25 L76.71 34.38 L76.91 34.52 L77.12 34.68 L77.31 34.84 L77.50 35.00 L77.72 35.21 L77.94 35.46 L78.15 35.73 L78.35 36.01 L78.55 36.32 L78.75 36.63 L78.94 36.95 L79.13 37.27 L79.31 37.59 L79.50 37.90 L79.69 38.22 L79.87 38.54 L80.05 38.86 L80.23 39.19 L80.40 39.52 L80.57 39.86 L80.75 40.19 L80.93 40.53 L81.11 40.86 L81.30 41.20 L81.51 41.56 L81.72 41.91 L81.94 42.27 L82.16 42.63 L82.38 42.99 L82.61 43.35 L82.83 43.72 L83.06 44.08 L83.28 44.44 L83.50 44.80 L83.72 45.16 L83.94 45.52 L84.16 45.87 L84.38 46.23 L84.60 46.59 L84.82 46.95 L85.04 47.31 L85.26 47.67 L85.48 48.03 L85.70 48.40 L85.93 48.78 L86.16 49.17 L86.39 49.55 L86.63 49.94 L86.86 50.33 L87.09 50.72 L87.32 51.11 L87.55 51.50 L87.78 51.90 L88.00 52.30 L88.23 52.71 L88.45 53.12 L88.67 53.54 L88.89 53.96 L89.11 54.38 L89.33 54.80 L89.55 55.22 L89.77 55.65 L89.98 56.07 L90.20 56.50 L90.42 56.94 L90.64 57.39 L90.86 57.84 L91.08 58.29 L91.30 58.74 L91.52 59.20 L91.74 59.65 L91.96 60.10 L92.18 60.55 L92.40 61.00 L92.62 61.44 L92.83 61.89 L93.05 62.33 L93.27 62.78 L93.48 63.22 L93.70 63.66 L93.92 64.10 L94.14 64.54 L94.37 64.97 L94.60 65.40 L94.83 65.82 L95.06 66.24 L95.28 66.66 L95.51 67.08 L95.75 67.49 L95.99 67.90 L96.23 68.31 L96.48 68.71 L96.73 69.11 L97.00 69.50 L97.27 69.89 L97.55 70.26 L97.84 70.63 L98.13 71.00 L98.43 71.36 L98.73 71.72 L99.04 72.09 L99.36 72.45 L99.68 72.82 L100.00 73.20 L100.37 73.63 L100.74 74.08 L101.12 74.53 L101.51 74.98 L101.90 75.43 L102.31 75.89 L102.72 76.33 L103.14 76.77 L103.56 77.19 L104.00 77.60 L104.46 78.00 L104.93 78.39 L105.42 78.77 L105.91 79.14 L106.42 79.50 L106.92 79.85 L107.43 80.20 L107.93 80.54 L108.42 80.87 L108.90 81.20 L109.32 81.49 L109.73 81.77 L110.13 82.05 L110.53 82.33 L110.93 82.60 L111.33 82.86 L111.74 83.11 L112.15 83.35 L112.57 83.58 L113.00 83.80 L113.45 84.01 L113.91 84.20 L114.37 84.39 L114.84 84.57 L115.32 84.73 L115.80 84.89 L116.28 85.03 L116.76 85.17 L117.23 85.29 L117.70 85.40 L118.13 85.49 L118.56 85.57 L118.99 85.64 L119.42 85.70 L119.85 85.75 L120.27 85.80 L120.70 85.83 L121.13 85.86 L121.56 85.88 L122.00 85.90 L122.45 85.91 L122.90 85.92 L123.34 85.91 L123.79 85.90 L124.24 85.88 L124.70 85.86 L125.16 85.83 L125.63 85.79 L126.11 85.75 L126.60 85.70 L127.20 85.64 L127.81 85.56 L128.44 85.47 L129.07 85.38 L129.72 85.28 L130.37 85.17 L131.03 85.06 L131.69 84.94 L132.35 84.82 L133.00 84.70 L133.68 84.57 L134.36 84.43 L135.04 84.28 L135.72 84.13 L136.40 83.97 L137.09 83.82 L137.80 83.66 L138.51 83.50 L139.25 83.35 L140.00 83.20 L140.93 83.02 L141.90 82.84 L142.90 82.66 L143.92 82.48 L144.95 82.31 L145.98 82.13 L147.01 81.96 L148.03 81.80 L149.03 81.64 L150.00 81.50 L150.85 81.38 L151.68 81.26 L152.49 81.15 L153.30 81.05 L154.10 80.95 L154.90 80.85 L155.71 80.76 L156.52 80.67 L157.35 80.58 L158.20 80.50 L159.14 80.41 L160.09 80.33 L161.04 80.25 L162.01 80.18 L162.98 80.10 L163.96 80.04 L164.96 79.97 L165.96 79.91 L166.98 79.86 L168.00 79.80 L169.14 79.74 L170.27 79.69 L171.41 79.64 L172.57 79.60 L173.73 79.56 L174.92 79.53 L176.14 79.49 L177.39 79.46 L178.67 79.43 L180.00 79.40 L181.78 79.37 L183.61 79.34 L185.50 79.31 L187.44 79.29 L189.43 79.27 L191.46 79.26 L193.54 79.24 L195.66 79.23 L197.81 79.21 L200.00 79.20 L202.75 79.18 L205.61 79.16 L208.55 79.15 L211.56 79.13 L214.62 79.12 L217.71 79.11 L220.81 79.10 L223.90 79.10 L226.97 79.10 L230.00 79.10 L232.98 79.11 L235.93 79.12 L238.86 79.14 L241.79 79.16 L244.73 79.19 L247.69 79.21 L250.68 79.24 L253.72 79.26 L256.83 79.28 L260.00 79.30 L263.77 79.32 L267.63 79.34 L271.58 79.35 L275.59 79.37 L279.64 79.38 L283.72 79.40 L287.82 79.40 L291.91 79.41 L295.97 79.41 L300.00 79.40 L304.00 79.39 L308.00 79.36 L312.00 79.33 L316.00 79.30 L320.00 79.26 L324.00 79.22 L328.00 79.19 L332.00 79.15 L336.00 79.12 L340.00 79.10 L344.00 79.08 L348.00 79.07 L352.00 79.05 L356.00 79.04 L360.00 79.03 L364.00 79.02 L368.00 79.02 L372.00 79.01 L376.00 79.01 L380.00 79.00 L384.00 79.00 L388.00 79.00 L392.00 79.00 L396.00 79.00 L400.00 79.00 L404.00 79.00 L408.00 79.00 L412.00 79.00 L416.00 79.00 L420.00 79.00 L424.00 78.99 L428.00 78.99 L432.00 78.98 L436.00 78.97 L440.00 78.96 L444.00 78.94 L448.00 78.93 L452.00 78.92 L456.00 78.91 L460.00 78.90 L464.01 78.89 L468.03 78.88 L472.05 78.87 L476.08 78.86 L480.10 78.84 L484.12 78.83 L488.12 78.82 L492.11 78.81 L496.07 78.81 L500.00 78.80 L503.74 78.80 L507.46 78.79 L511.15 78.79 L514.83 78.79 L518.50 78.79 L522.15 78.80 L525.81 78.80 L529.46 78.80 L533.13 78.80 L536.80 78.80" stroke="#EDB120" />
<path d="M66.10 250.00 L66.13 248.04 L66.15 246.14 L66.18 244.28 L66.20 242.43 L66.23 240.56 L66.25 238.65 L66.28 236.66 L66.32 234.58 L66.36 232.36 L66.40 230.00 L66.48 225.89 L66.58 221.35 L66.69 216.48 L66.81 211.35 L66.94 206.06 L67.07 200.68 L67.20 195.30 L67.34 190.00 L67.47 184.88 L67.60 180.00 L67.71 175.82 L67.83 171.71 L67.95 167.67 L68.07 163.68 L68.19 159.72 L68.31 155.79 L68.43 151.86 L68.55 147.93 L68.68 143.98 L68.80 140.00 L68.93 135.96 L69.06 131.85 L69.19 127.71 L69.33 123.55 L69.46 119.42 L69.60 115.33 L69.73 111.31 L69.86 107.40 L69.98 103.62 L70.10 100.00 L70.19 97.23 L70.27 94.52 L70.35 91.87 L70.43 89.27 L70.51 86.74 L70.58 84.26 L70.66 81.85 L70.74 79.50 L70.82 77.22 L70.90 75.00 L70.97 73.33 L71.03 71.69 L71.10 70.10 L71.17 68.54 L71.24 67.02 L71.31 65.54 L71.38 64.10 L71.45 62.69 L71.53 61.33 L71.60 60.00 L71.65 59.00 L71.70 58.02 L71.75 57.06 L71.80 56.13 L71.85 55.22 L71.90 54.33 L71.96 53.46 L72.03 52.62 L72.11 51.80 L72.20 51.00 L72.28 50.39 L72.36 49.79 L72.44 49.20 L72.53 48.63 L72.63 48.07 L72.73 47.52 L72.83 46.99 L72.95 46.48 L73.07 45.98 L73.20 45.50 L73.31 45.12 L73.41 44.75 L73.52 44.37 L73.64 44.01 L73.75 43.66 L73.88 43.32 L74.02 43.01 L74.16 42.71 L74.32 42.44 L74.50 42.20 L74.64 42.03 L74.80 41.88 L74.96 41.73 L75.12 41.59 L75.30 41.46 L75.47 41.36 L75.65 41.26 L75.83 41.19 L76.02 41.13 L76.20 41.10 L76.39 41.09 L76.58 41.11 L76.78 41.15 L76.98 41.20 L77.19 41.28 L77.39 41.37 L77.60 41.47 L77.80 41.57 L78.00 41.69 L78.20 41.80 L78.44 41.95 L78.67 42.11 L78.90 42.28 L79.14 42.47 L79.37 42.67 L79.60 42.88 L79.83 43.10 L80.05 43.33 L80.28 43.56 L80.50 43.80 L80.76 44.09 L81.01 44.40 L81.27 44.72 L81.52 45.06 L81.77 45.40 L82.01 45.75 L82.26 46.11 L82.50 46.47 L82.75 46.84 L83.00 47.20 L83.27 47.60 L83.52 48.01 L83.77 48.43 L84.03 48.86 L84.28 49.29 L84.54 49.72 L84.81 50.15 L85.09 50.57 L85.38 50.99 L85.70 51.40 L86.07 51.84 L86.46 52.28 L86.87 52.72 L87.30 53.16 L87.73 53.59 L88.18 54.01 L88.63 54.43 L89.09 54.83 L89.54 55.22 L90.00 55.60 L90.44 55.95 L90.88 56.28 L91.33 56.60 L91.78 56.91 L92.24 57.21 L92.70 57.51 L93.17 57.81 L93.64 58.10 L94.12 58.40 L94.60 58.70 L95.12 59.03 L95.66 59.37 L96.21 59.72 L96.77 60.07 L97.33 60.41 L97.88 60.75 L98.44 61.07 L98.97 61.37 L99.50 61.65 L100.00 61.90 L100.37 62.07 L100.73 62.23 L101.08 62.37 L101.42 62.50 L101.76 62.62 L102.09 62.73 L102.43 62.85 L102.78 62.96 L103.13 63.08 L103.50 63.20 L103.92 63.34 L104.35 63.49 L104.78 63.63 L105.21 63.77 L105.66 63.92 L106.11 64.06 L106.57 64.20 L107.03 64.33 L107.51 64.47 L108.00 64.60 L108.60 64.75 L109.21 64.90 L109.84 65.05 L110.49 65.20 L111.15 65.34 L111.81 65.48 L112.48 65.61 L113.15 65.75 L113.83 65.88 L114.50 66.00 L115.21 66.13 L115.93 66.25 L116.66 66.36 L117.39 66.48 L118.12 66.59 L118.86 66.69 L119.59 66.80 L120.33 66.90 L121.07 67.00 L121.80 67.10 L122.52 67.20 L123.24 67.29 L123.94 67.39 L124.65 67.48 L125.36 67.57 L126.07 67.66 L126.80 67.75 L127.55 67.83 L128.31 67.92 L129.10 68.00 L130.09 68.10 L131.09 68.19 L132.12 68.28 L133.17 68.37 L134.24 68.45 L135.33 68.54 L136.46 68.63 L137.61 68.71 L138.79 68.80 L140.00 68.90 L141.62 69.03 L143.32 69.16 L145.07 69.30 L146.87 69.45 L148.71 69.59 L150.58 69.74 L152.47 69.88 L154.38 70.02 L156.29 70.16 L158.20 70.30 L160.29 70.44 L162.41 70.59 L164.55 70.72 L166.71 70.86 L168.88 71.00 L171.08 71.13 L173.29 71.27 L175.51 71.41 L177.75 71.55 L180.00 71.70 L182.42 71.86 L184.85 72.03 L187.30 72.20 L189.77 72.38 L192.25 72.56 L194.75 72.73 L197.28 72.91 L199.83 73.08 L202.40 73.24 L205.00 73.40 L207.94 73.57 L210.99 73.73 L214.12 73.90 L217.30 74.06 L220.47 74.21 L223.61 74.36 L226.67 74.51 L229.61 74.64 L232.40 74.78 L235.00 74.90 L236.70 74.98 L238.29 75.06 L239.81 75.13 L241.27 75.20 L242.69 75.26 L244.09 75.33 L245.50 75.39 L246.94 75.46 L248.44 75.53 L250.00 75.60 L251.88 75.69 L253.82 75.77 L255.79 75.86 L257.79 75.95 L259.82 76.04 L261.86 76.14 L263.91 76.23 L265.95 76.32 L267.99 76.41 L270.00 76.50 L272.03 76.59 L274.11 76.68 L276.22 76.78 L278.33 76.87 L280.43 76.96 L282.49 77.06 L284.50 77.15 L286.44 77.23 L288.28 77.32 L290.00 77.40 L291.12 77.45 L292.16 77.51 L293.14 77.55 L294.08 77.60 L295.00 77.65 L295.92 77.70 L296.86 77.75 L297.84 77.79 L298.88 77.85 L300.00 77.90 L301.72 77.98 L303.56 78.07 L305.50 78.16 L307.51 78.25 L309.57 78.34 L311.67 78.44 L313.78 78.53 L315.89 78.62 L317.97 78.71 L320.00 78.80 L322.00 78.88 L324.00 78.96 L326.00 79.04 L328.00 79.12 L330.00 79.20 L332.00 79.28 L334.00 79.36 L336.00 79.44 L338.00 79.52 L340.00 79.60 L342.00 79.69 L344.00 79.78 L346.00 79.87 L348.00 79.96 L350.00 80.06 L352.00 80.15 L354.00 80.24 L356.00 80.33 L358.00 80.42 L360.00 80.50 L361.98 80.58 L363.94 80.65 L365.87 80.71 L367.81 80.78 L369.75 80.84 L371.71 80.91 L373.70 80.97 L375.74 81.04 L377.84 81.12 L380.00 81.20 L382.78 81.31 L385.71 81.43 L388.75 81.56 L391.85 81.70 L395.00 81.83 L398.15 81.97 L401.25 82.11 L404.29 82.25 L407.22 82.38 L410.00 82.50 L412.16 82.60 L414.26 82.69 L416.30 82.79 L418.29 82.88 L420.25 82.97 L422.19 83.06 L424.13 83.15 L426.06 83.24 L428.02 83.32 L430.00 83.40 L432.00 83.48 L434.00 83.56 L436.00 83.63 L438.00 83.70 L440.00 83.77 L442.00 83.84 L444.00 83.91 L446.00 83.98 L448.00 84.04 L450.00 84.10 L451.98 84.16 L453.94 84.21 L455.87 84.26 L457.81 84.31 L459.75 84.36 L461.71 84.41 L463.70 84.46 L465.74 84.50 L467.84 84.55 L470.00 84.60 L472.74 84.66 L475.56 84.72 L478.46 84.78 L481.42 84.84 L484.43 84.90 L487.49 84.96 L490.58 85.02 L493.71 85.08 L496.85 85.14 L500.00 85.20 L503.53 85.27 L507.12 85.34 L510.76 85.41 L514.45 85.48 L518.17 85.55 L521.90 85.62 L525.64 85.69 L529.38 85.76 L533.10 85.83 L536.80 85.90" stroke="#7E2F8E" />
<path d="M65.50 398.50 L65.52 391.57 L65.54 384.51 L65.56 377.37 L65.58 370.22 L65.60 363.11 L65.61 356.08 L65.63 349.20 L65.66 342.53 L65.68 336.11 L65.70 330.00 L65.72 325.60 L65.74 321.44 L65.76 317.47 L65.78 313.62 L65.80 309.84 L65.82 306.07 L65.84 302.26 L65.86 298.35 L65.88 294.28 L65.90 290.00 L65.92 284.47 L65.94 278.69 L65.95 272.72 L65.97 266.61 L65.98 260.42 L66.00 254.19 L66.01 247.98 L66.04 241.84 L66.07 235.83 L66.10 230.00 L66.14 224.79 L66.17 219.62 L66.21 214.49 L66.26 209.40 L66.31 204.37 L66.36 199.38 L66.41 194.45 L66.47 189.57 L66.53 184.75 L66.60 180.00 L66.67 175.82 L66.74 171.71 L66.81 167.67 L66.89 163.68 L66.97 159.72 L67.05 155.79 L67.13 151.86 L67.22 147.93 L67.31 143.98 L67.40 140.00 L67.49 135.95 L67.58 131.81 L67.67 127.63 L67.77 123.43 L67.86 119.26 L67.96 115.14 L68.06 111.13 L68.17 107.24 L68.28 103.52 L68.40 100.00 L68.49 97.50 L68.58 95.06 L68.68 92.68 L68.78 90.37 L68.88 88.12 L68.98 85.94 L69.08 83.84 L69.19 81.81 L69.29 79.86 L69.40 78.00 L69.48 76.73 L69.55 75.50 L69.63 74.30 L69.70 73.15 L69.78 72.03 L69.86 70.95 L69.94 69.90 L70.02 68.90 L70.11 67.93 L70.20 67.00 L70.26 66.37 L70.32 65.75 L70.39 65.16 L70.45 64.59 L70.51 64.04 L70.58 63.50 L70.65 62.98 L70.73 62.48 L70.81 61.98 L70.90 61.50 L70.97 61.13 L71.05 60.76 L71.12 60.40 L71.20 60.04 L71.28 59.70 L71.37 59.37 L71.46 59.05 L71.56 58.75 L71.68 58.47 L71.80 58.20 L71.90 58.01 L72.00 57.83 L72.10 57.66 L72.21 57.49 L72.32 57.34 L72.44 57.19 L72.57 57.05 L72.70 56.92 L72.85 56.81 L73.00 56.70 L73.17 56.60 L73.36 56.51 L73.56 56.44 L73.77 56.38 L73.99 56.33 L74.21 56.28 L74.43 56.25 L74.66 56.23 L74.88 56.21 L75.10 56.20 L75.33 56.20 L75.56 56.22 L75.80 56.24 L76.04 56.28 L76.27 56.33 L76.51 56.38 L76.76 56.43 L77.00 56.49 L77.25 56.55 L77.50 56.60 L77.78 56.66 L78.07 56.72 L78.35 56.79 L78.64 56.86 L78.93 56.93 L79.23 57.00 L79.53 57.07 L79.84 57.15 L80.17 57.22 L80.50 57.30 L80.96 57.40 L81.46 57.50 L81.97 57.60 L82.50 57.70 L83.05 57.81 L83.59 57.92 L84.14 58.03 L84.67 58.15 L85.20 58.27 L85.70 58.40 L86.15 58.52 L86.59 58.65 L87.02 58.78 L87.45 58.92 L87.87 59.06 L88.30 59.20 L88.72 59.35 L89.14 59.49 L89.57 59.65 L90.00 59.80 L90.45 59.96 L90.91 60.13 L91.36 60.30 L91.82 60.47 L92.28 60.65 L92.73 60.83 L93.20 61.01 L93.66 61.20 L94.13 61.40 L94.60 61.60 L95.12 61.84 L95.64 62.09 L96.15 62.35 L96.67 62.62 L97.20 62.89 L97.73 63.17 L98.28 63.44 L98.83 63.70 L99.41 63.96 L100.00 64.20 L100.73 64.47 L101.50 64.73 L102.30 64.98 L103.11 65.22 L103.94 65.45 L104.78 65.68 L105.61 65.91 L106.43 66.14 L107.23 66.37 L108.00 66.60 L108.68 66.81 L109.34 67.03 L109.99 67.25 L110.63 67.47 L111.26 67.68 L111.90 67.90 L112.54 68.11 L113.18 68.31 L113.83 68.51 L114.50 68.70 L115.21 68.89 L115.93 69.08 L116.65 69.26 L117.38 69.44 L118.12 69.61 L118.85 69.77 L119.59 69.94 L120.33 70.09 L121.07 70.25 L121.80 70.40 L122.52 70.55 L123.23 70.68 L123.94 70.82 L124.65 70.95 L125.36 71.07 L126.07 71.20 L126.80 71.32 L127.54 71.45 L128.31 71.57 L129.10 71.70 L130.09 71.86 L131.09 72.01 L132.12 72.17 L133.17 72.32 L134.24 72.48 L135.33 72.64 L136.46 72.80 L137.61 72.96 L138.79 73.13 L140.00 73.30 L141.65 73.54 L143.40 73.79 L145.24 74.05 L147.13 74.32 L149.05 74.59 L150.98 74.86 L152.88 75.12 L154.74 75.36 L156.52 75.59 L158.20 75.80 L159.49 75.95 L160.74 76.09 L161.96 76.23 L163.15 76.35 L164.32 76.47 L165.47 76.59 L166.61 76.70 L167.74 76.80 L168.87 76.90 L170.00 77.00 L171.01 77.08 L171.98 77.16 L172.92 77.23 L173.84 77.29 L174.77 77.35 L175.72 77.41 L176.69 77.47 L177.73 77.54 L178.82 77.62 L180.00 77.70 L182.03 77.85 L184.24 78.03 L186.60 78.23 L189.08 78.44 L191.65 78.65 L194.29 78.86 L196.98 79.07 L199.67 79.26 L202.36 79.44 L205.00 79.60 L207.93 79.75 L210.99 79.87 L214.12 79.99 L217.30 80.09 L220.47 80.18 L223.61 80.27 L226.67 80.35 L229.61 80.43 L232.40 80.51 L235.00 80.60 L236.70 80.66 L238.30 80.73 L239.81 80.79 L241.27 80.85 L242.69 80.91 L244.09 80.97 L245.50 81.03 L246.94 81.09 L248.44 81.14 L250.00 81.20 L251.88 81.27 L253.82 81.33 L255.79 81.40 L257.79 81.46 L259.82 81.52 L261.86 81.59 L263.91 81.65 L265.95 81.70 L267.99 81.75 L270.00 81.80 L271.98 81.84 L273.94 81.88 L275.87 81.91 L277.81 81.94 L279.75 81.97 L281.71 81.99 L283.70 82.02 L285.74 82.04 L287.84 82.07 L290.00 82.10 L292.74 82.14 L295.54 82.18 L298.42 82.22 L301.36 82.26 L304.35 82.31 L307.40 82.35 L310.49 82.39 L313.63 82.43 L316.80 82.47 L320.00 82.50 L323.77 82.54 L327.63 82.58 L331.58 82.62 L335.59 82.65 L339.64 82.69 L343.72 82.72 L347.82 82.74 L351.91 82.77 L355.97 82.79 L360.00 82.80 L364.00 82.81 L368.00 82.81 L372.00 82.80 L376.00 82.79 L380.00 82.78 L384.00 82.77 L388.00 82.75 L392.00 82.73 L396.00 82.72 L400.00 82.70 L404.03 82.69 L408.09 82.67 L412.18 82.66 L416.28 82.64 L420.36 82.62 L424.41 82.61 L428.42 82.58 L432.37 82.56 L436.23 82.53 L440.00 82.50 L443.17 82.47 L446.28 82.43 L449.32 82.40 L452.31 82.36 L455.27 82.31 L458.21 82.27 L461.14 82.23 L464.07 82.18 L467.02 82.14 L470.00 82.10 L472.99 82.06 L475.95 82.02 L478.90 81.97 L481.85 81.93 L484.81 81.89 L487.78 81.85 L490.77 81.80 L493.80 81.77 L496.88 81.73 L500.00 81.70 L503.53 81.67 L507.12 81.64 L510.76 81.62 L514.45 81.60 L518.17 81.58 L521.90 81.57 L525.64 81.55 L529.38 81.54 L533.10 81.52 L536.80 81.50" stroke="#77AC30" />
</g>
<g font-size="14.5" >
<text x="64.95" y="419.2" text-anchor="middle">0</text><text x="143.25" y="419.2" text-anchor="middle">5</text><text x="223.15" y="419.2" text-anchor="middle">10</text><text x="301.25" y="419.2" text-anchor="middle">15</text><text x="379.90" y="419.2" text-anchor="middle">20</text><text x="459.00" y="419.2" text-anchor="middle">25</text><text x="537.25" y="419.2" text-anchor="middle">30</text><text x="59.10" y="404.05" text-anchor="end">0</text><text x="59.70" y="351.45" text-anchor="end">0.01</text><text x="59.70" y="297.70" text-anchor="end">0.02</text><text x="59.70" y="244.60" text-anchor="end">0.03</text><text x="59.70" y="190.95" text-anchor="end">0.04</text><text x="59.70" y="137.80" text-anchor="end">0.05</text><text x="59.70" y="84.60" text-anchor="end">0.06</text><text x="59.70" y="31.45" text-anchor="end">0.07</text>
</g>
<text x="301.5" y="19.9" text-anchor="middle" font-weight="bold" font-size="16" style="fill:#000">PID control</text>
<text x="302.1" y="441.9" text-anchor="middle" font-size="16" letter-spacing="0.05">Time(seconds)</text>
<text transform="translate(23.0,211.9) rotate(-90)" text-anchor="middle" font-size="16" letter-spacing="0">pitch angle (rad)</text>
</g>
</svg>
</body></html>
